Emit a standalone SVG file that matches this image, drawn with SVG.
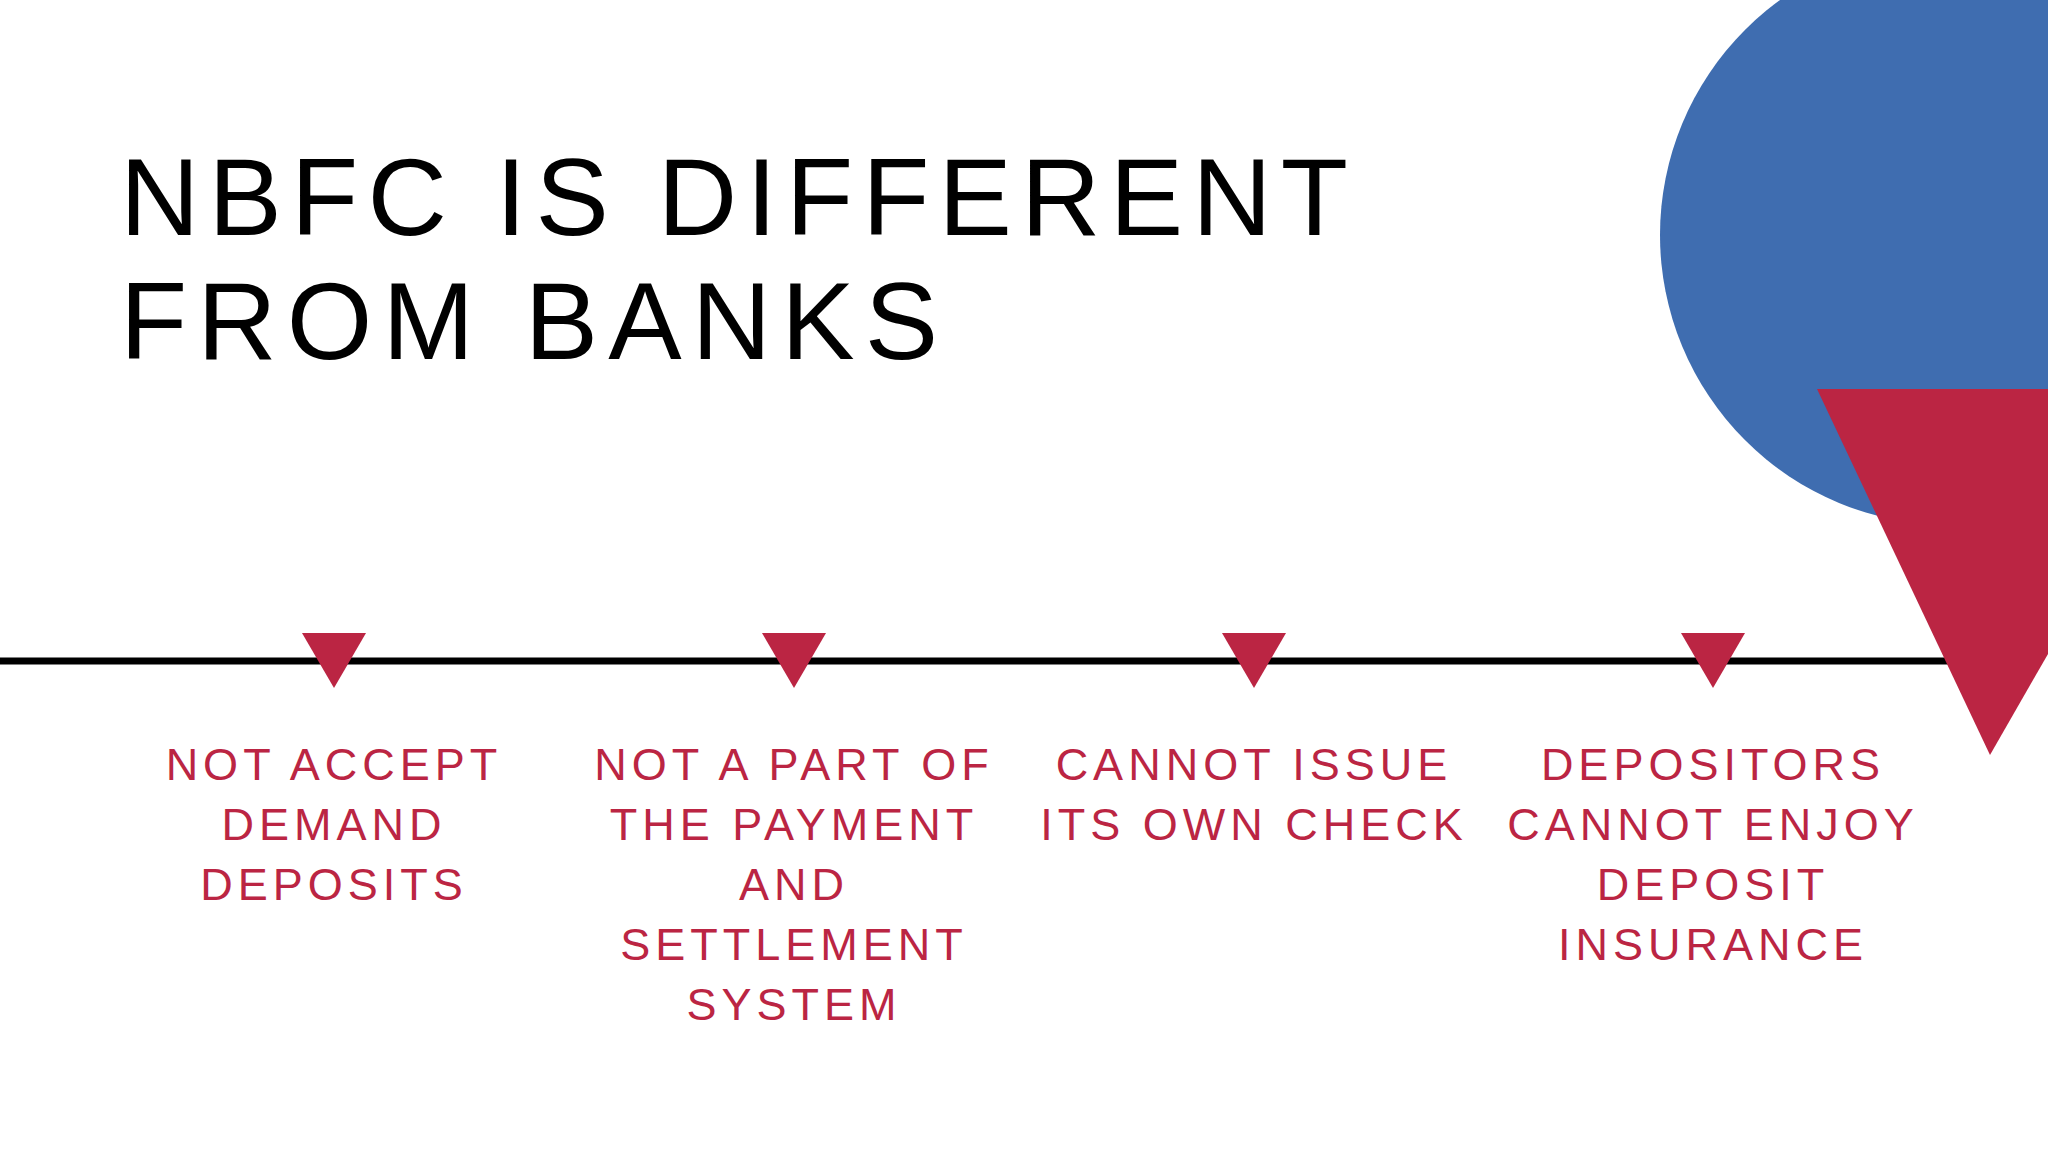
<svg xmlns="http://www.w3.org/2000/svg" width="2048" height="1152" viewBox="0 0 2048 1152">
<style>
.t{font-family:"Liberation Sans",Arial,sans-serif;fill:#000;font-size:110px}
.l{font-family:"Liberation Sans",Arial,sans-serif;fill:#bb2543;font-size:45px;text-anchor:middle;letter-spacing:5px}
.m{fill:#bb2543}
</style>
<rect width="2048" height="1152" fill="#fff"/>
<g id="connectors">
<line x1="0" y1="661" x2="1975" y2="661" stroke="#000" stroke-width="7"/>
</g>
<g id="decor">
<circle cx="1950" cy="235" r="290" fill="#3f6db0"/>
<polygon points="1817,389 2200,389 1990,755" fill="#bb2543"/>
</g>
<g id="title">
<text class="t" x="120" y="235" textLength="1228" lengthAdjust="spacing">NBFC IS DIFFERENT</text>
<text class="t" x="120" y="359" textLength="818" lengthAdjust="spacing">FROM BANKS</text>
</g>
<g id="n1"><polygon class="m" points="302,633 366,633 334,688"/>
<text class="l" x="334" y="780">NOT ACCEPT</text><text class="l" x="334" y="840">DEMAND</text><text class="l" x="334" y="900">DEPOSITS</text></g>
<g id="n2"><polygon class="m" points="762,633 826,633 794,688"/>
<text class="l" x="794" y="780">NOT A PART OF</text><text class="l" x="794" y="840">THE PAYMENT</text><text class="l" x="794" y="900">AND</text><text class="l" x="794" y="960">SETTLEMENT</text><text class="l" x="794" y="1020">SYSTEM</text></g>
<g id="n3"><polygon class="m" points="1222,633 1286,633 1254,688"/>
<text class="l" x="1254" y="780">CANNOT ISSUE</text><text class="l" x="1254" y="840">ITS OWN CHECK</text></g>
<g id="n4"><polygon class="m" points="1681,633 1745,633 1713,688"/>
<text class="l" x="1713" y="780">DEPOSITORS</text><text class="l" x="1713" y="840">CANNOT ENJOY</text><text class="l" x="1713" y="900">DEPOSIT</text><text class="l" x="1713" y="960">INSURANCE</text></g>
</svg>
